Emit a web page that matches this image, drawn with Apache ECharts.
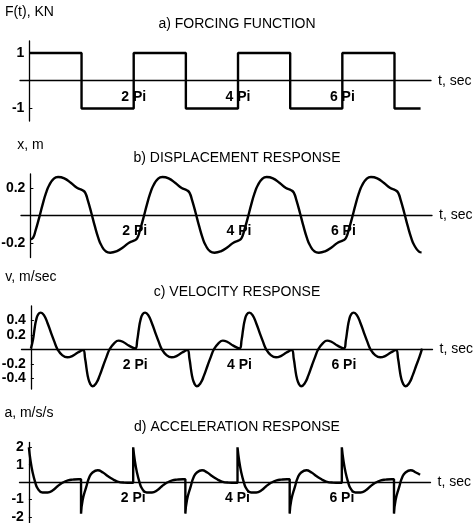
<!DOCTYPE html>
<html>
<head>
<meta charset="utf-8">
<script src="https://cdn.jsdelivr.net/npm/echarts@6/dist/echarts.min.js"></script>
<style>
html,body{margin:0;padding:0;background:#fff;}
#chart{width:474px;height:523px;}
</style>
</head>
<body>
<div id="chart"></div>
<script>
// time in units of Pi
const forceT = [0,1,1,2,2,3,3,4,4,5,5,6,6,7,7,7.5];
const forceF = [1,1,-1,-1,1,1,-1,-1,1,1,-1,-1,1,1,-1,-1];

const dispT = [0,0.05,0.1,0.17,0.23,0.3,0.36,0.45,0.53,0.65,0.78,0.9,1,1.05,1.1,1.17,1.23,1.3,1.36,1.45,1.53,1.65,1.78,1.9,
  2,2.05,2.1,2.17,2.23,2.3,2.36,2.45,2.53,2.65,2.78,2.9,3,3.05,3.1,3.17,3.23,3.3,3.36,3.45,3.53,3.65,3.78,3.9,
  4,4.05,4.1,4.17,4.23,4.3,4.36,4.45,4.53,4.65,4.78,4.9,5,5.05,5.1,5.17,5.23,5.3,5.36,5.45,5.53,5.65,5.78,5.9,
  6,6.05,6.1,6.17,6.23,6.3,6.36,6.45,6.53,6.65,6.78,6.9,7,7.05,7.1,7.17,7.23,7.3,7.36,7.45,7.5];
const dispX = [-0.175,-0.165,-0.11,-0.015,0.072,0.162,0.218,0.266,0.278,0.268,0.234,0.198,0.182,0.165,0.11,0.015,-0.072,-0.162,-0.218,-0.264,-0.272,-0.262,-0.232,-0.198,
  -0.182,-0.165,-0.11,-0.015,0.072,0.162,0.218,0.266,0.278,0.268,0.234,0.198,0.182,0.165,0.11,0.015,-0.072,-0.162,-0.218,-0.264,-0.272,-0.262,-0.232,-0.198,
  -0.182,-0.165,-0.11,-0.015,0.072,0.162,0.218,0.266,0.278,0.268,0.234,0.198,0.182,0.165,0.11,0.015,-0.072,-0.162,-0.218,-0.264,-0.272,-0.262,-0.232,-0.198,
  -0.182,-0.165,-0.11,-0.015,0.072,0.162,0.218,0.266,0.278,0.268,0.234,0.198,0.182,0.165,0.11,0.015,-0.072,-0.162,-0.218,-0.264,-0.27];

const velT = [0,0.04,0.07,0.1,0.14,0.19,0.25,0.32,0.39,0.45,0.51,0.6,0.7,0.8,0.9,1,1.04,1.07,1.1,1.14,1.18,1.25,1.32,1.39,1.45,1.51,1.6,1.68,1.77,1.88,
  2,2.04,2.07,2.1,2.14,2.19,2.25,2.32,2.39,2.45,2.51,2.6,2.7,2.8,2.9,3,3.04,3.07,3.1,3.14,3.18,3.25,3.32,3.39,3.45,3.51,3.6,3.68,3.77,3.88,
  4,4.04,4.07,4.1,4.14,4.19,4.25,4.32,4.39,4.45,4.51,4.6,4.7,4.8,4.9,5,5.04,5.07,5.1,5.14,5.18,5.25,5.32,5.39,5.45,5.51,5.6,5.68,5.77,5.88,
  6,6.04,6.07,6.1,6.14,6.19,6.25,6.32,6.39,6.45,6.51,6.6,6.7,6.8,6.9,7,7.04,7.07,7.1,7.14,7.18,7.25,7.32,7.39,7.45,7.5];
const velV = [0.01,0.13,0.28,0.4,0.48,0.505,0.47,0.36,0.22,0.105,0,-0.08,-0.11,-0.09,-0.045,-0.012,-0.13,-0.28,-0.4,-0.48,-0.51,-0.47,-0.36,-0.22,-0.105,0,0.085,0.12,0.1,0.05,
  0.012,0.13,0.28,0.4,0.48,0.505,0.47,0.36,0.22,0.105,0,-0.08,-0.11,-0.09,-0.045,-0.012,-0.13,-0.28,-0.4,-0.48,-0.51,-0.47,-0.36,-0.22,-0.105,0,0.085,0.12,0.1,0.05,
  0.012,0.13,0.28,0.4,0.48,0.505,0.47,0.36,0.22,0.105,0,-0.08,-0.11,-0.09,-0.045,-0.012,-0.13,-0.28,-0.4,-0.48,-0.51,-0.47,-0.36,-0.22,-0.105,0,0.085,0.12,0.1,0.05,
  0.012,0.13,0.28,0.4,0.48,0.505,0.47,0.36,0.22,0.105,0,-0.08,-0.11,-0.09,-0.045,-0.012,-0.13,-0.28,-0.4,-0.48,-0.51,-0.47,-0.36,-0.22,-0.105,0.01];

const accT = [0,0.03,0.07,0.12,0.17,0.26,0.36,0.46,0.55,0.65,0.75,0.84,0.95,1,1,1.03,1.1,1.16,1.22,1.32,1.42,1.51,1.61,1.7,1.83,1.95,2,
  2,2.03,2.07,2.12,2.17,2.26,2.36,2.46,2.55,2.65,2.75,2.84,2.95,3,3,3.03,3.1,3.16,3.22,3.32,3.42,3.51,3.61,3.7,3.83,3.95,4,
  4,4.03,4.07,4.12,4.17,4.26,4.36,4.46,4.55,4.65,4.75,4.84,4.95,5,5,5.03,5.1,5.16,5.22,5.32,5.42,5.51,5.61,5.7,5.83,5.95,6,
  6,6.03,6.07,6.12,6.17,6.26,6.36,6.46,6.55,6.65,6.75,6.84,6.95,7,7,7.03,7.1,7.16,7.22,7.32,7.42,7.5];
const accA = [2,1.26,0.58,0,-0.38,-0.6,-0.6,-0.47,-0.24,-0.03,0.1,0.14,0.16,0.16,-1.82,-1.05,-0.28,0.29,0.55,0.68,0.55,0.35,0.16,0.03,-0.03,-0.04,-0.04,
  2,1.26,0.58,0,-0.38,-0.6,-0.6,-0.47,-0.24,-0.03,0.1,0.14,0.16,0.16,-1.82,-1.05,-0.28,0.29,0.55,0.68,0.55,0.35,0.16,0.03,-0.03,-0.04,-0.04,
  2,1.26,0.58,0,-0.38,-0.6,-0.6,-0.47,-0.24,-0.03,0.1,0.14,0.16,0.16,-1.82,-1.05,-0.28,0.29,0.55,0.68,0.55,0.35,0.16,0.03,-0.03,-0.04,-0.04,
  2,1.26,0.58,0,-0.38,-0.6,-0.6,-0.47,-0.24,-0.03,0.1,0.14,0.16,0.16,-1.82,-1.05,-0.28,0.29,0.55,0.68,0.55,0.42];

const piTicks = [2,4,6];
const titles = ['a) FORCING FUNCTION','b) DISPLACEMENT RESPONSE','c) VELOCITY RESPONSE','d) ACCELERATION RESPONSE'];
const yNames = ['F(t), KN','x, m','v, m/sec','a, m/s/s'];
const yTicks = [[-1,1],[-0.2,0.2],[-0.4,-0.2,0.2,0.4],[-2,-1,1,2]];
const yRanges = [[-1.45,1.43],[-0.307,0.30],[-0.548,0.597],[-2.36,2.28]];
const xRange = [-0.18, 7.7];
const xName = 't, sec';

const FONT = '"Liberation Sans", Arial, sans-serif';
const GRID_WIDTH = 411;
const grids = [
  {left:20, width:GRID_WIDTH, top:41, height:80, outerBoundsMode:'none', containLabel:false},
  {left:21, width:GRID_WIDTH, top:174, height:83.5, outerBoundsMode:'none', containLabel:false},
  {left:21.5, width:GRID_WIDTH, top:306, height:83, outerBoundsMode:'none', containLabel:false},
  {left:19.5, width:GRID_WIDTH, top:442.5, height:80.5, outerBoundsMode:'none', containLabel:false}
];
const titleTops = [17, 151, 285.5, 420];
// pixel distance of the vertical zero line from the grid's left edge
const zeroFromLeft = GRID_WIDTH * (0 - xRange[0]) / (xRange[1] - xRange[0]);

function pairs(xs, ys){ return xs.map((x,i)=>[x, ys[i]]); }
const seriesData = [pairs(forceT, forceF), pairs(dispT, dispX), pairs(velT, velV), pairs(accT, accA)];

const option = {
  backgroundColor:'#fff',
  animation:false,
  title: titles.map((t,i)=>({text:t, left:'center', top:titleTops[i], padding:0,
    textStyle:{fontFamily:FONT, fontSize:14, fontWeight:'normal', color:'#000'}})),
  grid: grids,
  xAxis: grids.map((g,i)=>{
    const zeroFromBottom = g.height * (0 - yRanges[i][0]) / (yRanges[i][1] - yRanges[i][0]);
    return {
      type:'value', gridIndex:i, min:xRange[0], max:xRange[1],
      axisLine:{onZero:true, lineStyle:{color:'#000', width:1.3}},
      axisTick:{show:false}, splitLine:{show:false},
      axisLabel:{customValues:piTicks, formatter:v=>v+' Pi', margin:9 - zeroFromBottom,
        fontFamily:FONT, fontSize:14, fontWeight:'bold', color:'#000'},
      name:xName, nameLocation:'end', nameGap:7,
      nameTextStyle:{fontFamily:FONT, fontSize:14, color:'#000'}
    };
  }),
  yAxis: grids.map((g,i)=>({
    type:'value', gridIndex:i, min:yRanges[i][0], max:yRanges[i][1],
    axisLine:{onZero:true, lineStyle:{color:'#000', width:1.3}},
    axisTick:{show:true, customValues:yTicks[i], inside:true, length:3, lineStyle:{color:'#000'}},
    splitLine:{show:false},
    axisLabel:{customValues:yTicks[i], margin:5 - zeroFromLeft, hideOverlap:false,
      showMinLabel:true, showMaxLabel:true,
      fontFamily:FONT, fontSize:14, fontWeight:'bold', color:'#000'},
    name:yNames[i], nameLocation:'end', nameGap:22,
    nameTextStyle:{fontFamily:FONT, fontSize:14, color:'#000'}
  })),
  series: seriesData.map((d,i)=>({
    type:'line', xAxisIndex:i, yAxisIndex:i, data:d,
    smooth: i===0 ? false : 0.5,
    showSymbol:false, symbol:'none',
    lineStyle:{color:'#000', width:2.4},
    z:3
  }))
};
const chart = echarts.init(document.getElementById('chart'), null, {renderer:'canvas'});
chart.setOption(option);
</script>
</body>
</html>
